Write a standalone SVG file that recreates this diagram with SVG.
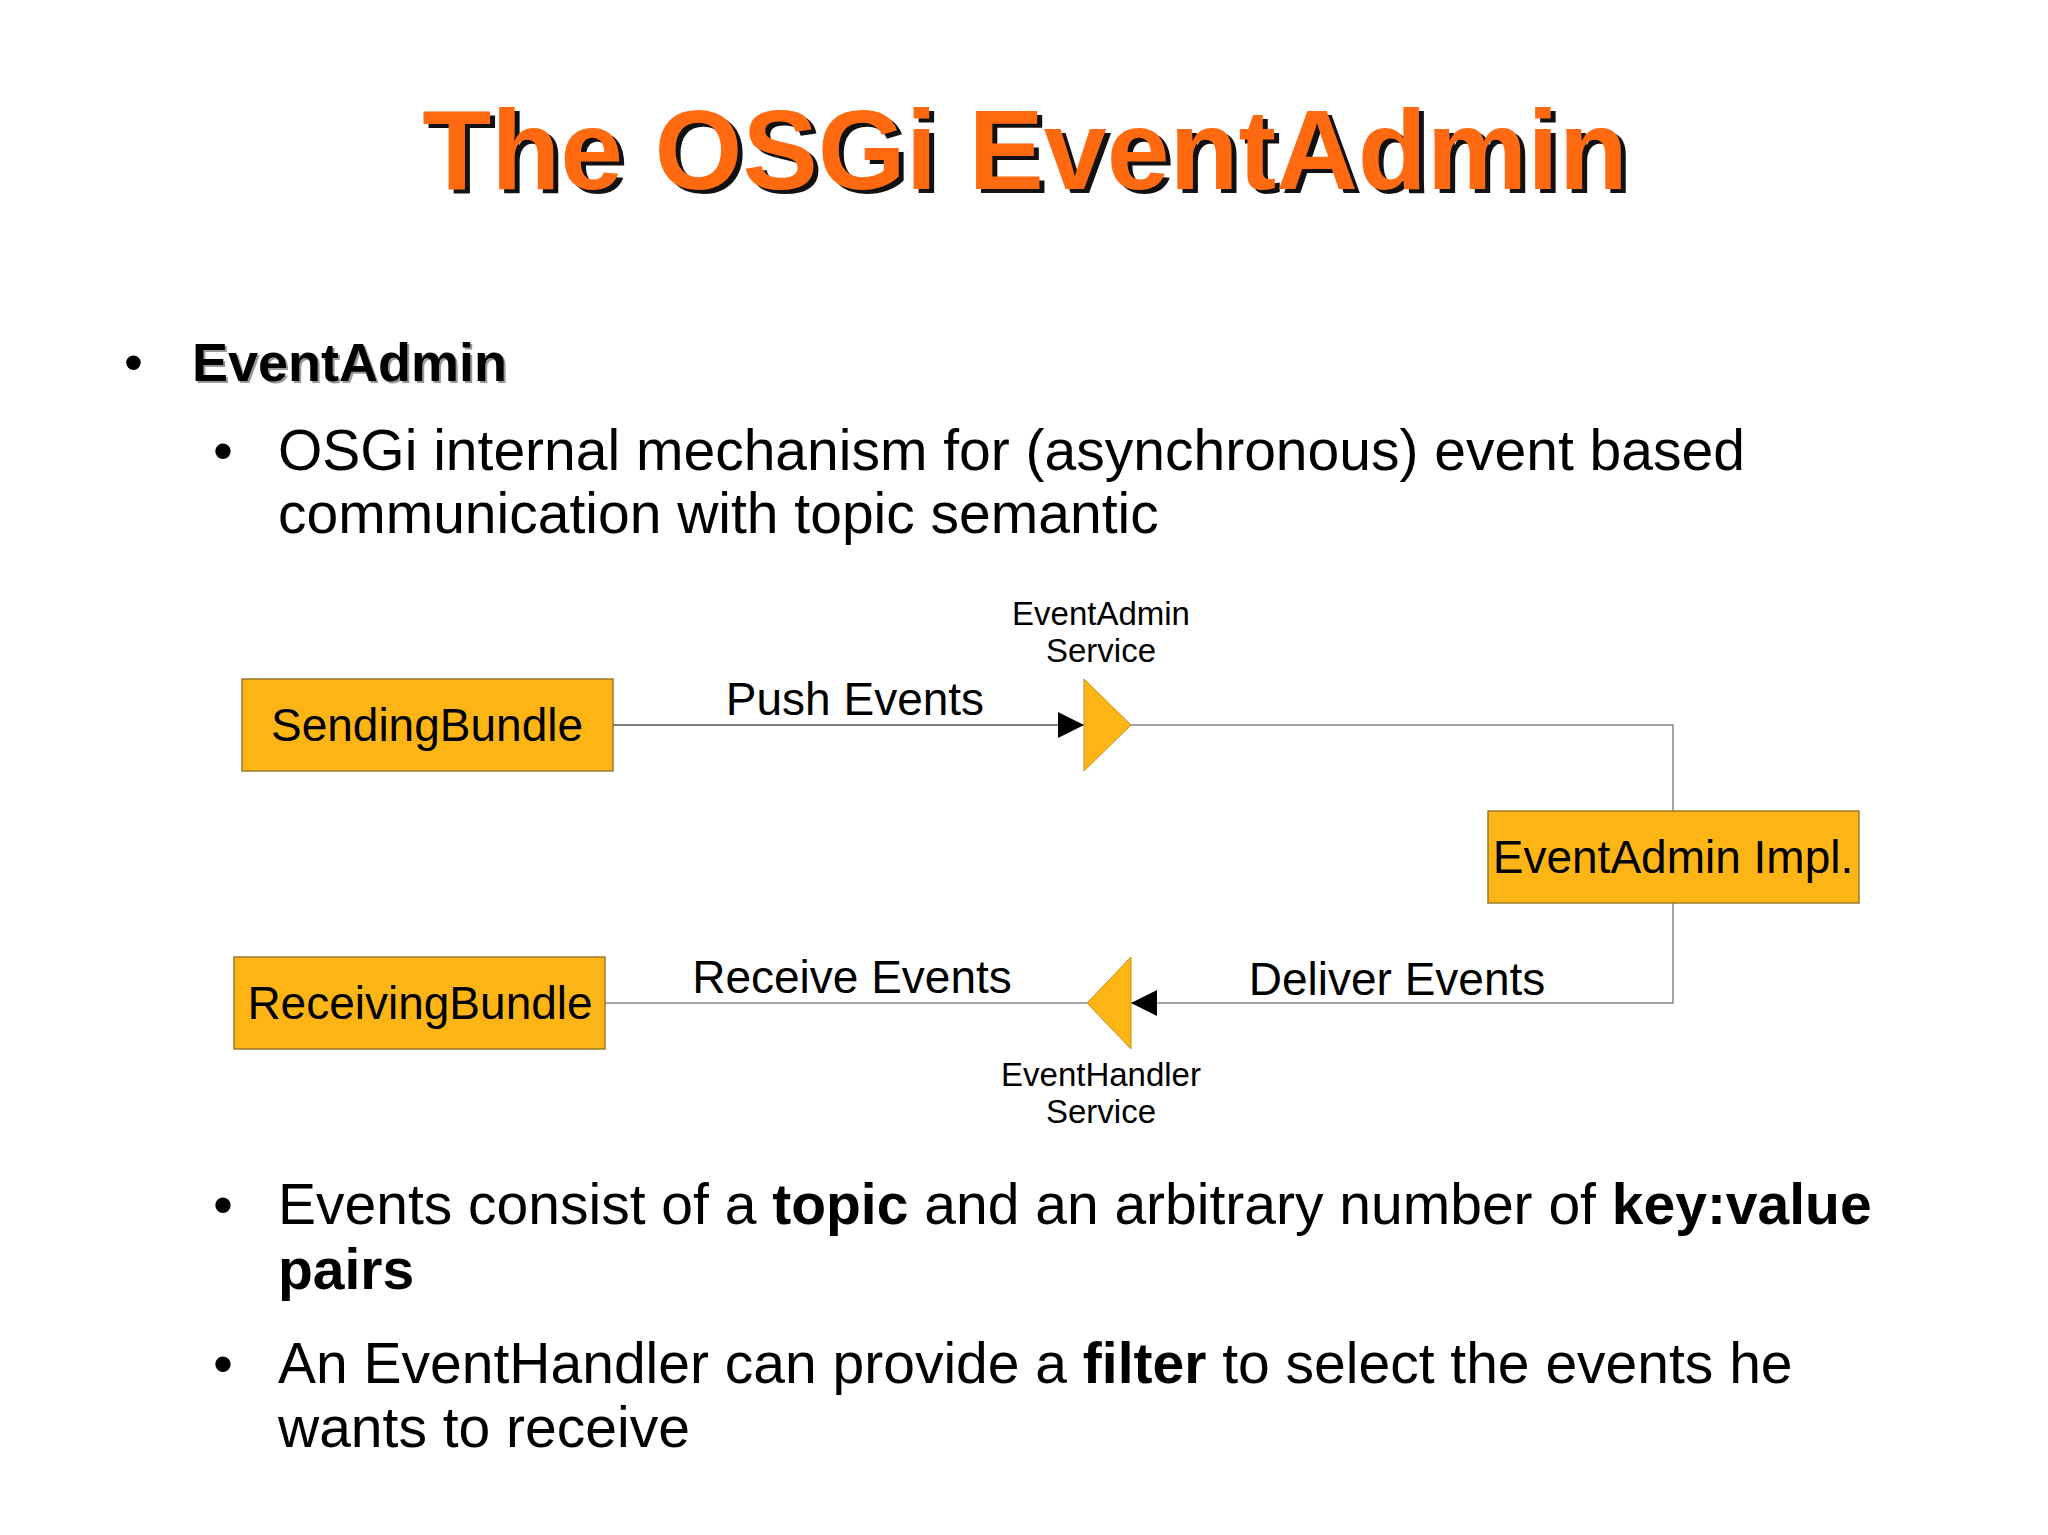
<svg xmlns="http://www.w3.org/2000/svg" width="2048" height="1535" viewBox="0 0 2048 1535">
<style>
text{font-family:"Liberation Sans",Arial,sans-serif;fill:#000}
.box{fill:#FDB515;stroke:#9A7A2A;stroke-width:1.5}
.tri{fill:#FDB515;stroke:#C89010;stroke-width:1}
.ln{fill:none;stroke:#888;stroke-width:1.5}
.b{font-size:57px}
.lbl{font-size:46px;text-anchor:middle}
.sm{font-size:33px;text-anchor:middle}
</style>
<defs>
<marker id="ah" viewBox="0 0 10 10" refX="10" refY="5" markerWidth="32" markerHeight="26" markerUnits="userSpaceOnUse" orient="auto"><path d="M0,0 L10,5 L0,10 z" fill="#000"/></marker>
</defs>
<rect width="2048" height="1535" fill="#fff"/>
<g id="title">
<text x="1030" y="193" font-size="113" font-weight="bold" text-anchor="middle" style="fill:#111">The OSGi EventAdmin</text>
<text x="1025" y="189" font-size="113" font-weight="bold" text-anchor="middle" style="fill:#FF6A10">The OSGi EventAdmin</text>
</g>
<g id="bullets">
<text x="124" y="381" font-size="54">•</text>
<text x="194" y="383" font-size="54" font-weight="bold" style="fill:#999">EventAdmin</text>
<text x="192" y="381" font-size="54" font-weight="bold">EventAdmin</text>
<text x="213" y="470" class="b">•</text>
<text x="278" y="470" class="b">OSGi internal mechanism for (asynchronous) event based</text>
<text x="278" y="533" class="b">communication with topic semantic</text>
<text x="213" y="1224" class="b">•</text>
<text x="278" y="1224" class="b">Events consist of a <tspan font-weight="bold">topic</tspan> and an arbitrary number of <tspan font-weight="bold">key:value</tspan></text>
<text x="278" y="1289" class="b" font-weight="bold">pairs</text>
<text x="213" y="1383" class="b">•</text>
<text x="278" y="1383" class="b">An EventHandler can provide a <tspan font-weight="bold">filter</tspan> to select the events he</text>
<text x="278" y="1447" class="b">wants to receive</text>
</g>
<g id="connectors">
<line class="ln" x1="613" y1="725" x2="1084" y2="725" marker-end="url(#ah)" style="stroke:#555"/>
<polyline class="ln" points="1131,725 1673,725 1673,811"/>
<polyline class="ln" points="1673,903 1673,1003 1131,1003" marker-end="url(#ah)"/>
<line class="ln" x1="605" y1="1003" x2="1087" y2="1003"/>
<text x="855" y="715" class="lbl">Push Events</text>
<text x="1397" y="995" class="lbl">Deliver Events</text>
<text x="852" y="993" class="lbl">Receive Events</text>
</g>
<g id="sending"><rect class="box" x="242" y="679" width="371" height="92"/><text x="427" y="741" class="lbl">SendingBundle</text></g>
<g id="impl"><rect class="box" x="1488" y="811" width="371" height="92"/><text x="1673" y="873" class="lbl">EventAdmin Impl.</text></g>
<g id="receiving"><rect class="box" x="234" y="957" width="371" height="92"/><text x="420" y="1019" class="lbl">ReceivingBundle</text></g>
<g id="eaService"><polygon class="tri" points="1084,679 1131,725 1084,771"/><text x="1101" y="625" class="sm">EventAdmin</text><text x="1101" y="662" class="sm">Service</text></g>
<g id="ehService"><polygon class="tri" points="1131,957 1087,1003 1131,1049"/><text x="1101" y="1086" class="sm">EventHandler</text><text x="1101" y="1123" class="sm">Service</text></g>
</svg>
